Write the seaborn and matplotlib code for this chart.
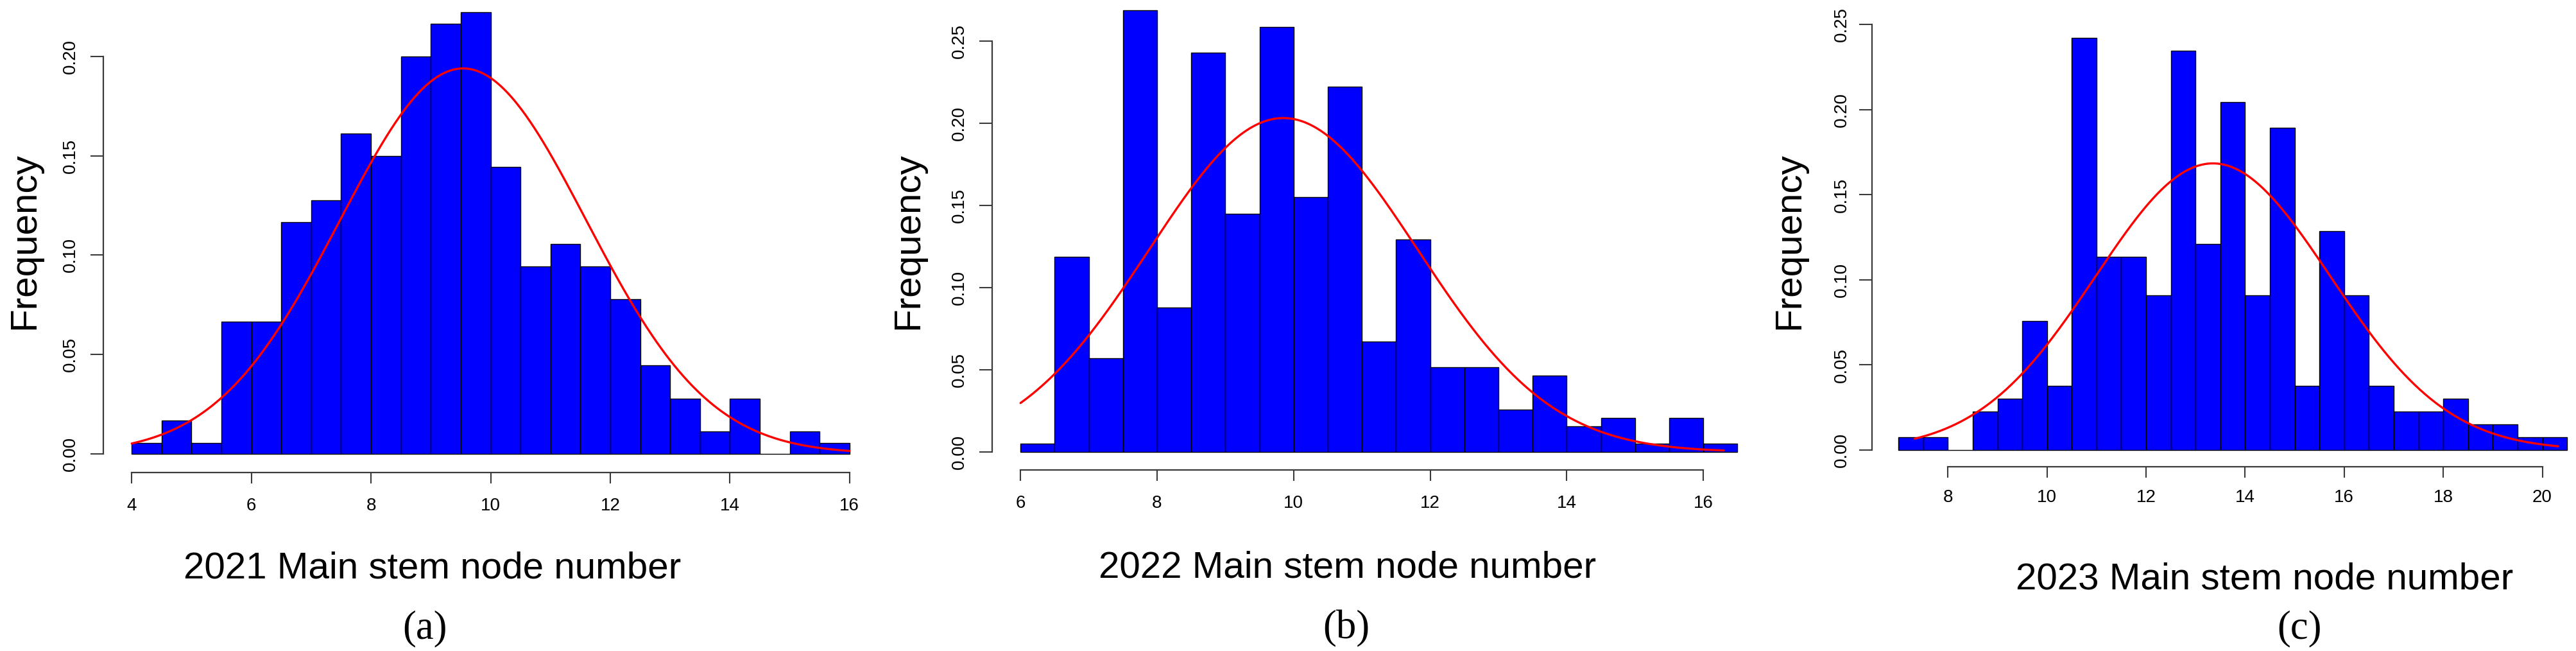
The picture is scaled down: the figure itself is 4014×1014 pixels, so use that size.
import numpy as np
import pandas as pd
import matplotlib
matplotlib.use("Agg")
import matplotlib.pyplot as plt
import seaborn as sns

# ---------------- data ----------------
bin_width = 0.5

# 2021: bins of 0.5 starting at 4 (counts per bin, n = 360)
a_start = 4.0
a_counts = [1, 3, 1, 12, 12, 21, 23, 29, 27, 36, 39, 40,
            26, 17, 19, 17, 14, 8, 5, 2, 5, 0, 2, 1]
a_mean, a_sd = 9.54, 2.056
a_curve_from, a_curve_to = 4.0, 16.0

# 2022: bins of 0.5 starting at 6 (n = 387)
b_start = 6.0
b_counts = [1, 23, 11, 52, 17, 47, 28, 50, 30, 43, 13,
            25, 10, 10, 5, 9, 3, 4, 1, 4, 1]
b_mean, b_sd = 9.85, 1.965
b_curve_from, b_curve_to = 6.0, 16.3

# 2023: bins of 0.5 starting at 7 (n = 264)
c_start = 7.0
c_counts = [1, 1, 0, 3, 4, 10, 5, 32, 15, 15, 12, 31, 16, 27,
            12, 25, 5, 17, 12, 5, 3, 3, 4, 2, 2, 1, 1]
c_mean, c_sd = 13.35, 2.368
c_curve_from, c_curve_to = 7.33, 20.32

x_titles = ["2021 Main stem node number",
            "2022 Main stem node number",
            "2023 Main stem node number"]
panel_tags = ["(a)", "(b)", "(c)"]
y_title = "Frequency"

a_xticks = [4, 6, 8, 10, 12, 14, 16]
b_xticks = [6, 8, 10, 12, 14, 16]
c_xticks = [8, 10, 12, 14, 16, 18, 20]
a_yticks = [0.00, 0.05, 0.10, 0.15, 0.20]
b_yticks = [0.00, 0.05, 0.10, 0.15, 0.20, 0.25]
c_yticks = [0.00, 0.05, 0.10, 0.15, 0.20, 0.25]

# ---------------- layout (pixels in a 4014 x 1014 canvas) ----------------
W, H = 4014, 1014
layout = [
    dict(left=160.5, right=1368.5, bottom=735.7, xlim=(3.52, 16.48), ylim=(-0.00938, 0.2285),
         xpad=16, ypad=12.6, ylab_x=53, xlab_x=674, xlab_y=900.7, tag_x=662),
    dict(left=1545.5, right=2752, bottom=731.7, xlim=(5.58, 16.92), ylim=(-0.0108, 0.2748),
         xpad=16, ypad=12.6, ylab_x=1430, xlab_x=2100, xlab_y=900, tag_x=2098),
    dict(left=2916.5, right=4014, bottom=726.7, xlim=(6.46, 20.68), ylim=(-0.0097, 0.2645),
         xpad=13.5, ypad=9.7, ylab_x=2803, xlab_x=3529, xlab_y=917.3, tag_x=3583),
]

sns.set_style("white")
plt.rcParams["font.family"] = ["Liberation Sans", "DejaVu Sans"]

fig = plt.figure(figsize=(W / 100, H / 100), dpi=100)
fig.patch.set_facecolor("white")

panels = [
    (a_start, a_counts, a_mean, a_sd, a_curve_from, a_curve_to, a_xticks, a_yticks),
    (b_start, b_counts, b_mean, b_sd, b_curve_from, b_curve_to, b_xticks, b_yticks),
    (c_start, c_counts, c_mean, c_sd, c_curve_from, c_curve_to, c_xticks, c_yticks),
]

axis_col = "#3a3a3a"

for i, (start, counts, mu, sd, cf, ct, xt, yt) in enumerate(panels):
    L = layout[i]
    rect = [L["left"] / W, (H - L["bottom"]) / H,
            (L["right"] - L["left"]) / W, L["bottom"] / H]
    ax = fig.add_axes(rect)
    ax.set_facecolor("white")

    nb = len(counts)
    centers = start + bin_width * (np.arange(nb) + 0.5)
    df = pd.DataFrame({"x": centers, "w": np.asarray(counts, dtype=float)})
    sns.histplot(data=df, x="x", weights="w", binwidth=bin_width,
                 binrange=(start, start + bin_width * nb), stat="density",
                 color="#0000ff", edgecolor="black", linewidth=1.0, alpha=1,
                 ax=ax)

    xs = np.linspace(cf, ct, 500)
    ys = np.exp(-0.5 * ((xs - mu) / sd) ** 2) / (sd * np.sqrt(2 * np.pi))
    sns.lineplot(x=xs, y=ys, color="#ff0000", linewidth=2.4, ax=ax)

    ax.set_xlim(*L["xlim"])
    ax.set_ylim(*L["ylim"])
    ax.set_xlabel("")
    ax.set_ylabel("")

    ax.set_xticks(xt)
    ax.set_xticklabels([str(v) for v in xt])
    ax.set_yticks(yt)
    ax.set_yticklabels([f"{v:.2f}" for v in yt], rotation=90, va="center")

    for s in ["top", "right"]:
        ax.spines[s].set_visible(False)
    ax.spines["left"].set_bounds(yt[0], yt[-1])
    ax.spines["bottom"].set_bounds(xt[0], xt[-1])
    for s in ["left", "bottom"]:
        ax.spines[s].set_color(axis_col)
        ax.spines[s].set_linewidth(1.6)

    ax.tick_params(axis="x", length=12.2, width=1.5, color=axis_col,
                   labelsize=20, labelcolor="black", pad=L["xpad"], direction="out",
                   bottom=True)
    ax.tick_params(axis="y", length=14.4, width=1.5, color=axis_col,
                   labelsize=20, labelcolor="black", pad=L["ypad"], direction="out",
                   left=True)
    ax.grid(False)

    fig.text(L["ylab_x"] / W, 1 - 375 / H, y_title, rotation=90,
             rotation_mode="anchor", ha="center", va="baseline",
             fontsize=42, color="black")
    fig.text(L["xlab_x"] / W, 1 - L["xlab_y"] / H, x_titles[i],
             ha="center", va="baseline", fontsize=42, color="black")
    fig.text(L["tag_x"] / W, 1 - 994 / H, panel_tags[i],
             ha="center", va="baseline", fontsize=45, color="black",
             family=["Liberation Serif", "DejaVu Serif"])

fig.savefig("out.png", dpi=100, facecolor="white")
